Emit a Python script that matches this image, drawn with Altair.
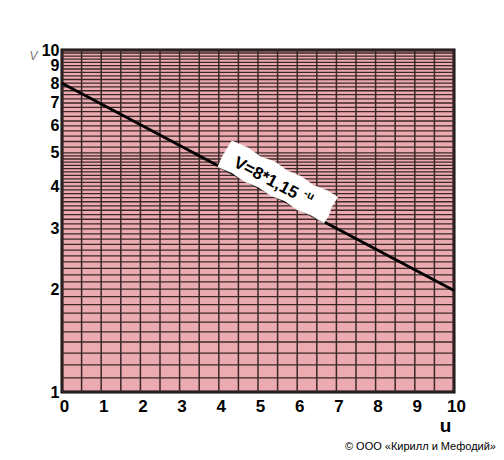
import altair as alt
import pandas as pd

# Data
u_vals = [0, 10]
v_vals = [8.0, 1.98]

x_ticks = [0, 1, 2, 3, 4, 5, 6, 7, 8, 9, 10]
x_grid = [0, 0.5, 1, 1.5, 2, 2.5, 3, 3.5, 4, 4.5, 5, 5.5, 6, 6.5, 7, 7.5, 8, 8.5, 9, 9.5, 10]
y_ticks = [1, 2, 3, 4, 5, 6, 7, 8, 9, 10]
y_grid = ([round(1 + 0.1 * i, 1) for i in range(40)] +
          [round(5 + 0.2 * i, 1) for i in range(26)])

label_text = ["V=8*1,15"]
label_u = [5.20]
label_v = [4.22]
sup_text = ["-u"]
sup_u = [6.30]
sup_v = [3.76]
box_u = [5.51]
box_v = [4.12]
copyright = ["© ООО «Кирилл и Мефодий»"]

FONT = "Liberation Sans"
GRID = "#3a2828"

xs = alt.Scale(domain=[0, 10], nice=False, zero=False)
ys = alt.Scale(type="log", domain=[1, 10], nice=False)

x_axis = alt.Axis(values=x_ticks, grid=False, ticks=False, domain=False,
                  labelFont=FONT, labelFontSize=17, labelFontWeight="bold",
                  labelColor="black", labelPadding=6, labelAngle=0,
                  labelFlush=False, labelOverlap=False, labelOffset=2,
                  title="u", titleFont=FONT, titleFontSize=19,
                  titleFontWeight="bold", titleColor="black",
                  titleX=383, titleY=39, titleBaseline="alphabetic",
                  titleAlign="center", format="d")
y_axis = alt.Axis(values=y_ticks, grid=False, ticks=False, domain=False,
                  labelFont=FONT, labelFontSize=16, labelFontWeight="bold",
                  labelColor="black", labelPadding=3, format="d",
                  labelOverlap=False, labelFlush=False,
                  title="V", titleAngle=0, titleX=-29, titleY=5,
                  titleFont=FONT, titleFontSize=12, titleFontStyle="italic",
                  titleFontWeight="normal", titleColor="#777777",
                  titleAlign="center", titleBaseline="middle")


def X(f):
    return alt.X(f, type="quantitative", scale=xs, axis=x_axis, title="u")


def Y(f):
    return alt.Y(f, type="quantitative", scale=ys, axis=y_axis, title="V")


line_df = pd.DataFrame({"u": u_vals, "V": v_vals})

hgrid = alt.Chart(pd.DataFrame({"g": y_grid})).mark_rule(
    color=GRID, strokeWidth=1.3
).encode(y=Y("g"))

vgrid = alt.Chart(pd.DataFrame({"g": x_grid})).mark_rule(
    color=GRID, strokeWidth=1.5
).encode(x=X("g"))

line = alt.Chart(line_df).mark_line(color="black", strokeWidth=2.8).encode(
    x=X("u"), y=Y("V"))

box_path = ("M-1,-0.24 L-0.7,-0.265 L-0.45,-0.23 L-0.2,-0.27 L0.05,-0.235 "
            "L0.3,-0.26 L0.55,-0.225 L0.8,-0.255 L1,-0.24 L0.985,-0.05 L1.01,0.1 "
            "L1,0.25 L0.75,0.235 L0.5,0.265 L0.25,0.23 L0,0.262 L-0.25,0.235 "
            "L-0.5,0.26 L-0.75,0.23 L-1,0.255 L-1.015,0.05 Z")

box = alt.Chart(pd.DataFrame({"u": box_u, "V": box_v})).mark_point(
    shape=box_path, filled=True, fill="white", stroke="white", strokeWidth=0.5,
    opacity=1, size=14400, angle=28
).encode(x=X("u"), y=Y("V"))

main_txt = alt.Chart(pd.DataFrame({"u": label_u, "V": label_v, "t": label_text})).mark_text(
    angle=28, font=FONT, fontSize=17, fontWeight="bold", color="black",
    align="center", baseline="middle"
).encode(x=X("u"), y=Y("V"), text="t:N")

sup_txt = alt.Chart(pd.DataFrame({"u": sup_u, "V": sup_v, "t": sup_text})).mark_text(
    angle=28, font=FONT, fontSize=11, fontWeight="bold", color="black",
    align="center", baseline="middle"
).encode(x=X("u"), y=Y("V"), text="t:N")

copy_txt = alt.Chart(pd.DataFrame({"t": copyright})).mark_text(
    font=FONT, fontSize=11, color="black", align="right", baseline="middle"
).encode(text="t:N", x=alt.value(434), y=alt.value(397))

chart = alt.layer(hgrid, vgrid, line, box, main_txt, sup_txt, copy_txt).properties(
    width=392, height=342,
    autosize=alt.AutoSizeParams(type="none"),
    padding={"left": 54, "top": 42, "right": 42, "bottom": 60},
    background="white",
).configure_view(
    fill="#ecaab1", stroke="black", strokeWidth=3
)

chart.save("out.html", embed_options={"renderer": "svg", "actions": False})
